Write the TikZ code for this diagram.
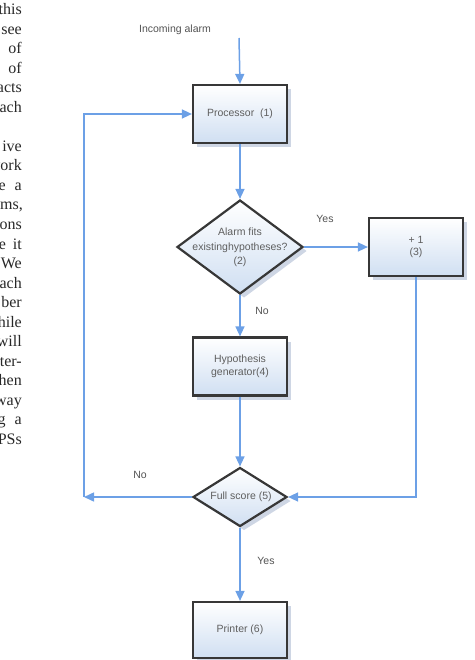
\documentclass[tikz,border=0pt]{standalone}
\usepackage{fontspec}
\setmainfont{Liberation Serif}
\newfontfamily\diagfont{Liberation Sans}
\usetikzlibrary{shapes.geometric,shadows,arrows.meta}
\definecolor{arrowc}{RGB}{108,160,230}
\definecolor{borderc}{RGB}{55,55,55}
\definecolor{fillc}{RGB}{208,223,242}
\definecolor{shadowc}{RGB}{206,214,228}
\definecolor{txtc}{RGB}{95,95,95}
\definecolor{coltxt}{RGB}{40,40,40}
\begin{document}
\begin{tikzpicture}[x=1pt,y=-1pt,
  shadowed/.style={drop shadow={shadow xshift=4pt,shadow yshift=-4pt,fill=shadowc,opacity=1}},
  box/.style={shadowed,draw=borderc,line width=2.2pt,top color=white,bottom color=fillc,
    minimum width=94pt,minimum height=58pt,inner sep=0pt,align=center,
    font=\diagfont\fontsize{10.5}{12.5}\selectfont,text=txtc},
  dia/.style={shadowed,diamond,draw=borderc,line width=2.2pt,top color=white,bottom color=fillc,
    inner sep=0pt,aspect=1},
  diatext/.style={align=center,font=\diagfont\fontsize{10.5}{14.5}\selectfont,text=txtc,inner sep=0pt},
  lbl/.style={font=\diagfont\fontsize{10.5}{12}\selectfont,text=coltxt!80,inner sep=0pt},
  arr/.style={draw=arrowc,line width=1.5pt,-{Triangle[length=10pt,width=9pt]}},
  coltext/.style={anchor=base east,inner sep=0pt,font=\fontsize{16}{19.5}\selectfont,text=coltxt}]
\useasboundingbox (0,0) rectangle (474,660);
\clip (0,0) rectangle (474,660);
% left text column
\node[coltext] (l1) at (22,15) {this};
\node[coltext] (l2) at (22,34.5) {see};
\node[coltext] (l3) at (22,54) {of};
\node[coltext] (l4) at (22,73.5) {of};
\node[coltext] (l5) at (22,93) {acts};
\node[coltext] (l6) at (22,112.5) {ach};
\node[coltext] (l7) at (22,151.5) {ive};
\node[coltext] (l8) at (22,171) {work};
\node[coltext] (l9) at (22,190.5) {e\hskip 9pt a};
\node[coltext] (l10) at (23,210) {ms,};
\node[coltext] (l11) at (22,229.5) {ons};
\node[coltext] (l12) at (22,249) {e\hskip 7pt it};
\node[coltext] (l13) at (22,268.5) {We};
\node[coltext] (l14) at (22,288) {ach};
\node[coltext] (l15) at (22,307.5) {ber};
\node[coltext] (l16) at (22,327) {hile};
\node[coltext] (l17) at (22,346.5) {will};
\node[coltext] (l18) at (22,366) {ter-};
\node[coltext] (l19) at (22,385.5) {hen};
\node[coltext] (l20) at (22,405) {way};
\node[coltext] (l21) at (22,424.5) {g\hskip 9pt a};
\node[coltext] (l22) at (22,444) {PSs};
% nodes
\node[lbl] (inc) at (175,30) {Incoming alarm};
\coordinate (start) at (239,38);
\node[box] (p1) at (240,114) {Processor~~(1)};
\node[dia,minimum width=126pt,minimum height=94pt] (d2) at (240,247) {};
\node[diatext] (t2) at (240,247.5) {Alarm fits\\existinghypotheses?\\(2)};
\node[box] (b3) at (416,247) {+ 1\\(3)};
\node[box] (b4) at (240,366.5) {Hypothesis\\generator(4)};
\node[dia,minimum width=94pt,minimum height=59pt] (d5) at (240,497) {};
\node[diatext] (t5) at (241,497) {Full score (5)};
\node[box,minimum height=56pt] (b6) at (240,630) {Printer (6)};
\coordinate (corner) at (84,497);
% labels
\node[lbl] (yes1) at (325,219) {Yes};
\node[lbl] (no1) at (262,311) {No};
\node[lbl] (no2) at (140,475) {No};
\node[lbl] (yes2) at (266,561) {Yes};
% connectors
\draw[arr] (start) -- (p1.north);
\draw[arr] (p1.south) -- (d2.north);
\draw[arr] (d2.east) -- (b3.west);
\draw[arr] (d2.south) -- (b4.north);
\draw[arr] (b4.south) -- (d5.north);
\draw[arr] (b3.south) |- (d5.east);
\draw[arr] (d5.west) -- (corner);
\draw[arr] (corner) |- (p1.west);
\draw[arr] (d5.south) -- (b6.north);
\end{tikzpicture}
\end{document}
